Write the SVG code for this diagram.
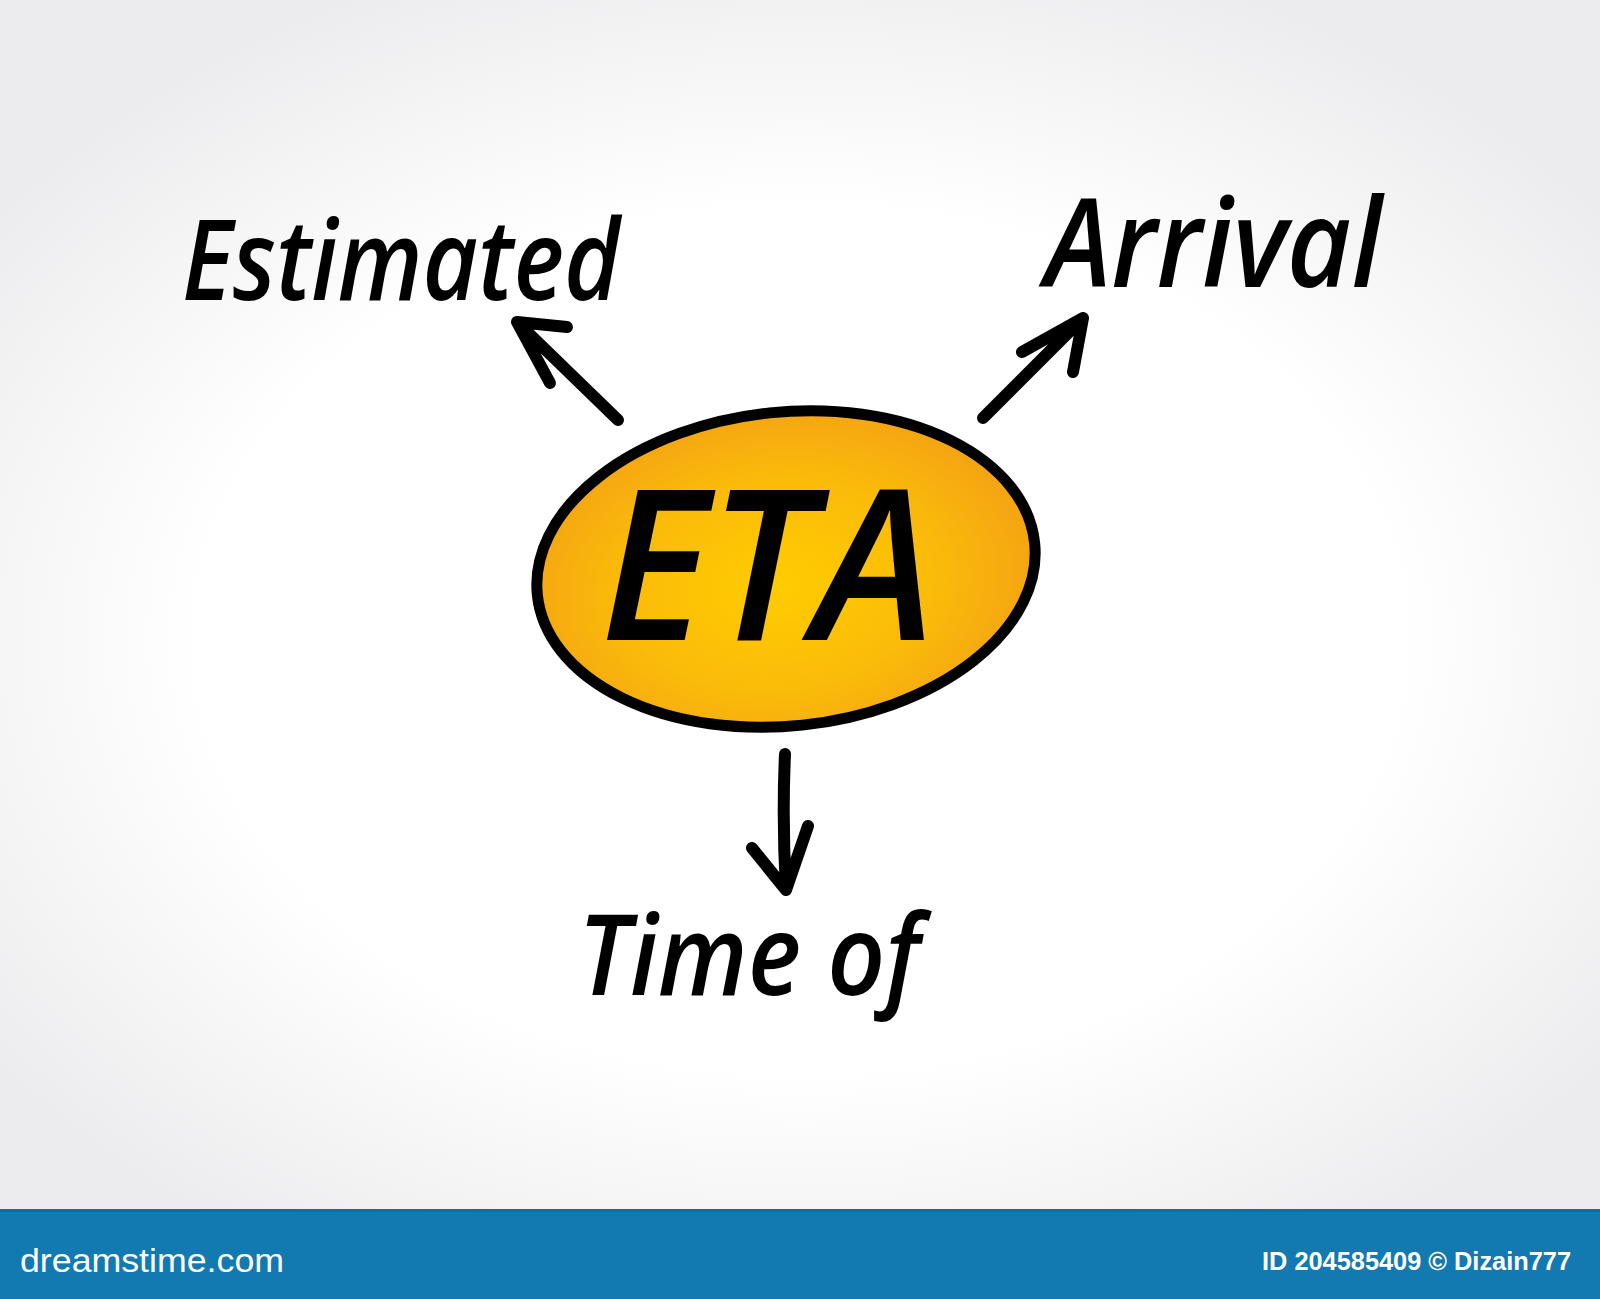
<svg xmlns="http://www.w3.org/2000/svg" width="1600" height="1299" viewBox="0 0 1600 1299">
<defs>
<radialGradient id="bg" cx="800" cy="640" r="1000" gradientUnits="userSpaceOnUse" gradientTransform="translate(800 640) scale(1 0.72) translate(-800 -640)">
<stop offset="0.6" stop-color="#ffffff"/>
<stop offset="1" stop-color="#ececee"/>
</radialGradient>
<radialGradient id="fillG" cx="775" cy="585" r="260" gradientUnits="userSpaceOnUse" gradientTransform="translate(775 585) scale(1 0.68) translate(-775 -585)">
<stop offset="0" stop-color="#ffcc00"/>
<stop offset="0.6" stop-color="#fbbb0a"/>
<stop offset="1" stop-color="#f4a512"/>
</radialGradient>
<style>
.hand{font-family:"Open Sans","DejaVu Sans",sans-serif;font-style:italic;font-weight:560;fill:#000}
.arr{fill:none;stroke:#000;stroke-width:12;stroke-linecap:round;stroke-linejoin:round}
.foot{font-family:"Liberation Sans Narrow","Liberation Sans",sans-serif;fill:#fff}
</style>
</defs>
<rect x="0" y="0" width="1600" height="1209" fill="url(#bg)"/>
<g id="connectors">
<path class="arr" d="M618,420 L517,322 M567,327 L517,322 L550,383"/>
<path class="arr" d="M983,418 L1083,318 M1022,352 L1083,318 L1073,372"/>
<path class="arr" d="M785,754 Q782,820 786,890 M752,848 L786,890 L808,826"/>
</g>
<g id="node-eta">
<ellipse cx="786" cy="569" rx="250" ry="157" transform="rotate(-6 786 569)" fill="url(#fillG)" stroke="#000" stroke-width="11"/>
<text class="hand" x="600" y="640" font-size="210" font-weight="650" textLength="335" lengthAdjust="spacingAndGlyphs">ETA</text>
</g>
<g id="node-estimated">
<text class="hand" x="182" y="300" font-size="112" textLength="438" lengthAdjust="spacingAndGlyphs">Estimated</text>
</g>
<g id="node-arrival">
<text class="hand" x="1045" y="287" font-size="124" textLength="337" lengthAdjust="spacingAndGlyphs">Arrival</text>
</g>
<g id="node-timeof">
<text class="hand" x="578" y="995" font-size="112" textLength="342" lengthAdjust="spacingAndGlyphs">Time of</text>
</g>
<g id="footer">
<rect x="0" y="1209" width="1600" height="90" fill="#1279b1"/>
<rect x="0" y="1209" width="1600" height="3" fill="#0f6ea3"/>
<text class="foot" x="20" y="1272" font-size="34" font-family="Liberation Sans, sans-serif" textLength="264" lengthAdjust="spacingAndGlyphs">dreamstime.com</text>
<text class="foot" x="1262" y="1270" font-size="25" font-weight="700" textLength="309" lengthAdjust="spacingAndGlyphs">ID 204585409 © Dizain777</text>
</g>
</svg>
